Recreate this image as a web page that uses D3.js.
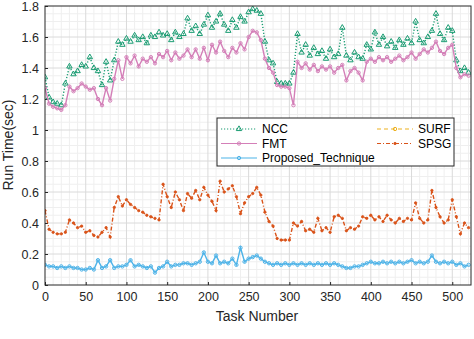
<!DOCTYPE html>
<html>
<head>
<meta charset="utf-8">
<script src="https://cdn.jsdelivr.net/npm/d3@7"></script>
<style>
    body { margin: 0; background: #fff; }
    svg { font-family: Arial, "Liberation Sans", Helvetica, sans-serif; }
</style>
</head>
<body>
<svg width="474" height="339"></svg>
<script>
const taskStep = 5;
const nccTimes = [1.34, 1.21, 1.18, 1.17, 1.16, 1.30, 1.41, 1.36, 1.38, 1.42, 1.41, 1.47, 1.40, 1.38, 1.29, 1.44, 1.32, 1.45, 1.57, 1.55,
    1.59, 1.57, 1.61, 1.58, 1.60, 1.56, 1.61, 1.60, 1.63, 1.61, 1.62, 1.58, 1.63, 1.60, 1.62, 1.72, 1.64, 1.67, 1.62, 1.68,
    1.74, 1.66, 1.70, 1.75, 1.68, 1.64, 1.71, 1.66, 1.73, 1.70, 1.76, 1.78, 1.77, 1.75, 1.57, 1.45, 1.43, 1.31, 1.30, 1.30,
    1.30, 1.37, 1.62, 1.50, 1.55, 1.48, 1.53, 1.49, 1.51, 1.46, 1.52, 1.47, 1.49, 1.66, 1.48, 1.45, 1.50, 1.47, 1.46, 1.55,
    1.52, 1.63, 1.55, 1.60, 1.54, 1.57, 1.53, 1.58, 1.55, 1.59, 1.56, 1.70, 1.58, 1.56, 1.60, 1.64, 1.75, 1.62, 1.58, 1.66,
    1.64, 1.45, 1.38, 1.40, 1.37];
const fmtTimes = [1.27, 1.17, 1.15, 1.14, 1.13, 1.16, 1.28, 1.25, 1.27, 1.30, 1.28, 1.26, 1.27, 1.20, 1.16, 1.27, 1.19, 1.33, 1.45, 1.33,
    1.47, 1.43, 1.48, 1.41, 1.46, 1.44, 1.47, 1.43, 1.49, 1.47, 1.51, 1.45, 1.50, 1.46, 1.48, 1.52, 1.47, 1.52, 1.46, 1.53,
    1.45, 1.55, 1.50, 1.57, 1.51, 1.47, 1.53, 1.50, 1.56, 1.52, 1.60, 1.64, 1.63, 1.58, 1.46, 1.40, 1.37, 1.29, 1.28, 1.28,
    1.27, 1.16, 1.44, 1.40, 1.43, 1.39, 1.42, 1.38, 1.41, 1.39, 1.41, 1.37, 1.40, 1.42, 1.32, 1.38, 1.40, 1.37, 1.32, 1.44,
    1.46, 1.44, 1.47, 1.45, 1.47, 1.44, 1.46, 1.48, 1.45, 1.47, 1.50, 1.46, 1.49, 1.52, 1.50, 1.53, 1.57, 1.51, 1.49, 1.53,
    1.55, 1.40, 1.34, 1.36, 1.35];
const proposedTimes = [0.13, 0.12, 0.12, 0.11, 0.12, 0.11, 0.12, 0.11, 0.11, 0.10, 0.10, 0.11, 0.10, 0.16, 0.11, 0.12, 0.16, 0.11, 0.12, 0.12,
    0.13, 0.16, 0.12, 0.13, 0.12, 0.11, 0.12, 0.08, 0.11, 0.12, 0.15, 0.12, 0.13, 0.13, 0.14, 0.14, 0.13, 0.14, 0.15, 0.21,
    0.15, 0.14, 0.19, 0.14, 0.15, 0.14, 0.17, 0.13, 0.24, 0.15, 0.17, 0.18, 0.19, 0.17, 0.15, 0.14, 0.13, 0.14, 0.13, 0.14,
    0.13, 0.14, 0.13, 0.14, 0.13, 0.14, 0.13, 0.14, 0.13, 0.14, 0.13, 0.14, 0.13, 0.12, 0.11, 0.11, 0.12, 0.12, 0.13, 0.14,
    0.15, 0.14, 0.14, 0.15, 0.14, 0.15, 0.14, 0.15, 0.14, 0.15, 0.16, 0.14, 0.15, 0.14, 0.15, 0.19, 0.15, 0.14, 0.15, 0.14,
    0.15, 0.13, 0.14, 0.12, 0.13];
const surfTimes = []; // SURF runs above the plotted range, nothing visible
const spsgTimes = [0.48, 0.36, 0.34, 0.33, 0.33, 0.34, 0.42, 0.40, 0.37, 0.38, 0.34, 0.35, 0.32, 0.31, 0.34, 0.37, 0.31, 0.50, 0.57, 0.51,
    0.55, 0.52, 0.50, 0.48, 0.47, 0.45, 0.44, 0.43, 0.42, 0.65, 0.57, 0.50, 0.60, 0.55, 0.48, 0.59, 0.56, 0.61, 0.55, 0.63,
    0.58, 0.54, 0.48, 0.67, 0.60, 0.62, 0.64, 0.57, 0.46, 0.53, 0.57, 0.59, 0.63, 0.58, 0.47, 0.41, 0.38, 0.30, 0.29, 0.29,
    0.29, 0.40, 0.38, 0.41, 0.35, 0.36, 0.34, 0.43, 0.35, 0.37, 0.34, 0.44, 0.45, 0.43, 0.35, 0.37, 0.36, 0.38, 0.44, 0.43,
    0.45, 0.42, 0.44, 0.41, 0.45, 0.42, 0.40, 0.43, 0.41, 0.43, 0.42, 0.53, 0.43, 0.40, 0.42, 0.61, 0.50, 0.44, 0.40, 0.42,
    0.55, 0.44, 0.33, 0.40, 0.37];

const xTicks = [0, 50, 100, 150, 200, 250, 300, 350, 400, 450, 500];
const yTicks = [0, 0.2, 0.4, 0.6, 0.8, 1, 1.2, 1.4, 1.6, 1.8];

const series = [
    { name: 'NCC', values: nccTimes, color: '#1a9c72', dash: '1.2,1.8', marker: 'triangle', col: 0, row: 0 },
    { name: 'FMT', values: fmtTimes, color: '#d47fb8', dash: null, marker: 'circle', col: 0, row: 1 },
    { name: 'Proposed_Technique', values: proposedTimes, color: '#4db3e8', dash: null, marker: 'circle', col: 0, row: 2 },
    { name: 'SURF', values: surfTimes, color: '#edb120', dash: '4,3', marker: 'circle', col: 1, row: 0 },
    { name: 'SPSG', values: spsgTimes, color: '#d95319', dash: '4,2,1,2', marker: 'dot', col: 1, row: 1 }
];

const svg = d3.select('svg');
const x = d3.scaleLinear().domain([0, 523]).range([45, 471]);
const y = d3.scaleLinear().domain([0, 1.8]).range([285, 6]);

svg.append('defs').append('clipPath').attr('id', 'plot-clip')
    .append('rect')
    .attr('x', x(0)).attr('y', y(1.8))
    .attr('width', x(523) - x(0)).attr('height', y(0) - y(1.8));

// grid, minor then major
const grid = svg.append('g').attr('class', 'grid');
grid.selectAll('.minor-x')
    .data(d3.range(10, 523, 10).filter(v => v % 50 !== 0))
    .enter().append('line')
    .attr('x1', d => x(d)).attr('x2', d => x(d))
    .attr('y1', y(0)).attr('y2', y(1.8))
    .attr('stroke', '#efefef').attr('stroke-width', 1);
grid.selectAll('.minor-y')
    .data(d3.range(1, 36).map(i => i * 0.05).filter(v => Math.abs(v * 5 - Math.round(v * 5)) > 1e-6))
    .enter().append('line')
    .attr('x1', x(0)).attr('x2', x(523))
    .attr('y1', d => y(d)).attr('y2', d => y(d))
    .attr('stroke', '#efefef').attr('stroke-width', 1);
grid.selectAll('.major-x')
    .data(xTicks.slice(1))
    .enter().append('line')
    .attr('x1', d => x(d)).attr('x2', d => x(d))
    .attr('y1', y(0)).attr('y2', y(1.8))
    .attr('stroke', '#dadada').attr('stroke-width', 1);
grid.selectAll('.major-y')
    .data(yTicks.slice(1, -1))
    .enter().append('line')
    .attr('x1', x(0)).attr('x2', x(523))
    .attr('y1', d => y(d)).attr('y2', d => y(d))
    .attr('stroke', '#dadada').attr('stroke-width', 1);

// axes
const xAxis = svg.append('g')
    .attr('transform', `translate(0,${y(0)})`)
    .call(d3.axisBottom(x).tickValues(xTicks).tickSizeInner(-3).tickSizeOuter(0).tickPadding(7));
const yAxis = svg.append('g')
    .attr('transform', `translate(${x(0)},0)`)
    .call(d3.axisLeft(y).tickValues(yTicks).tickFormat(d3.format('~g')).tickSizeInner(-3).tickSizeOuter(0).tickPadding(6));
[xAxis, yAxis].forEach(a => {
    a.select('.domain').remove();
    a.selectAll('line').attr('stroke', '#262626');
    a.selectAll('text').attr('fill', '#262626').style('font-size', '12.5px');
});

// series
const plot = svg.append('g').attr('clip-path', 'url(#plot-clip)');
const line = d3.line()
    .x((d, i) => x(i * taskStep))
    .y(d => y(d));

const drawMarker = (sel, s, size) => {
    if (s.marker === 'triangle') {
        sel.append('path')
            .attr('d', d3.symbol(d3.symbolTriangle, size * size * 0.8)())
            .attr('fill', 'none').attr('stroke', s.color).attr('stroke-width', 1);
    } else if (s.marker === 'dot') {
        sel.append('circle').attr('r', size * 0.3)
            .attr('fill', s.color).attr('stroke', s.color).attr('stroke-width', 0.8);
    } else {
        sel.append('circle').attr('r', size * 0.42)
            .attr('fill', 'none').attr('stroke', s.color).attr('stroke-width', 1);
    }
};

series.forEach(s => {
    if (!s.values.length) return;
    const g = plot.append('g').attr('class', 'series');
    g.append('path')
        .datum(s.values)
        .attr('d', line)
        .attr('fill', 'none')
        .attr('stroke', s.color)
        .attr('stroke-width', 1.4)
        .attr('stroke-dasharray', s.dash);
    g.selectAll('g.pt')
        .data(s.values)
        .enter().append('g')
        .attr('class', 'pt')
        .attr('transform', (d, i) => `translate(${x(i * taskStep)},${y(d)})`)
        .each(function () { drawMarker(d3.select(this), s, 4); });
});

// axes box
svg.append('rect')
    .attr('x', x(0)).attr('y', y(1.8))
    .attr('width', x(523) - x(0)).attr('height', y(0) - y(1.8))
    .attr('fill', 'none').attr('stroke', '#262626').attr('stroke-width', 1);

// legend
const legend = svg.append('g').attr('transform', 'translate(217,118)');
legend.append('rect')
    .attr('width', 237).attr('height', 48)
    .attr('fill', '#fff').attr('stroke', '#262626').attr('stroke-width', 1);
const entries = legend.selectAll('g.entry')
    .data(series)
    .enter().append('g')
    .attr('class', 'entry')
    .attr('transform', d => `translate(${d.col ? 160 : 4},${11 + d.row * 14.5})`);
entries.append('line')
    .attr('x1', 0).attr('x2', 36)
    .attr('stroke', d => d.color)
    .attr('stroke-width', 1.2)
    .attr('stroke-dasharray', d => d.dash);
entries.each(function (d) {
    const m = d3.select(this).append('g').attr('transform', 'translate(18,0)');
    drawMarker(m, d, 4);
});
entries.append('text')
    .attr('x', 41)
    .attr('dy', '0.35em')
    .attr('fill', '#000')
    .style('font-size', '12px')
    .text(d => d.name);

// axis labels
svg.append('text')
    .attr('x', 257).attr('y', 321)
    .attr('text-anchor', 'middle')
    .attr('fill', '#262626')
    .style('font-size', '14px')
    .text('Task Number');
svg.append('text')
    .attr('transform', 'translate(13,145) rotate(-90)')
    .attr('text-anchor', 'middle')
    .attr('fill', '#262626')
    .style('font-size', '14px')
    .text('Run Time(sec)');
</script>
</body>
</html>
